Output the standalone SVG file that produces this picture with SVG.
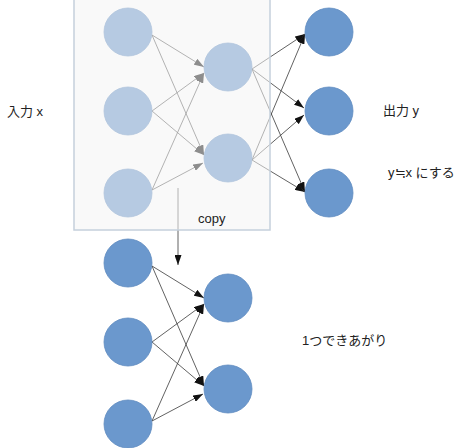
<svg xmlns="http://www.w3.org/2000/svg" width="474" height="448" viewBox="0 0 474 448">
<defs>
<style>
.edge{stroke:#3a3a3a;stroke-width:0.8;fill:none;marker-end:url(#arr)}
.node{fill:#6b98cd;stroke:#5f8bc0;stroke-width:0.8}
.lbl{font-family:"Liberation Sans","Noto Sans CJK JP",sans-serif;font-size:13px;fill:#222}
</style>
<marker id="arr" viewBox="0 0 10 7" refX="10" refY="3.5" markerWidth="10" markerHeight="7" markerUnits="userSpaceOnUse" orient="auto">
<path d="M0,0 L10,3.5 L0,7 z" fill="#111"/>
</marker>
</defs>
<rect width="474" height="448" fill="#fff"/>
<g id="connectors">
<line class="edge" x1="152" y1="35" x2="204" y2="67"/>
<line class="edge" x1="152" y1="35" x2="204" y2="155"/>
<line class="edge" x1="152" y1="111" x2="204" y2="73"/>
<line class="edge" x1="152" y1="111" x2="204" y2="155"/>
<line class="edge" x1="152" y1="190" x2="204" y2="73"/>
<line class="edge" x1="152" y1="190" x2="203" y2="163"/>
<line class="edge" x1="252" y1="69" x2="305" y2="34"/>
<line class="edge" x1="252" y1="69" x2="304" y2="108"/>
<line class="edge" x1="252" y1="69" x2="305" y2="192"/>
<line class="edge" x1="252" y1="160" x2="305" y2="34"/>
<line class="edge" x1="252" y1="160" x2="304" y2="115"/>
<line class="edge" x1="252" y1="160" x2="305" y2="192"/>
<line class="edge" x1="152" y1="266" x2="204" y2="298"/>
<line class="edge" x1="152" y1="266" x2="204" y2="386"/>
<line class="edge" x1="152" y1="342" x2="204" y2="304"/>
<line class="edge" x1="152" y1="342" x2="204" y2="386"/>
<line class="edge" x1="152" y1="421" x2="204" y2="304"/>
<line class="edge" x1="152" y1="421" x2="203" y2="394"/>
<line id="copy-arrow" class="edge" x1="178" y1="188" x2="178" y2="265"/>
</g>
<g id="in1"><circle class="node" cx="128" cy="32" r="24"/></g>
<g id="in2"><circle class="node" cx="128" cy="111" r="24"/></g>
<g id="in3"><circle class="node" cx="128" cy="193" r="24"/></g>
<g id="h1"><circle class="node" cx="228" cy="67" r="24"/></g>
<g id="h2"><circle class="node" cx="228" cy="158" r="24"/></g>
<g id="o1"><circle class="node" cx="329" cy="32" r="24"/></g>
<g id="o2"><circle class="node" cx="329" cy="111" r="24"/></g>
<g id="o3"><circle class="node" cx="329" cy="193" r="24"/></g>
<g id="b_in1"><circle class="node" cx="128" cy="263" r="24"/></g>
<g id="b_in2"><circle class="node" cx="128" cy="342" r="24"/></g>
<g id="b_in3"><circle class="node" cx="128" cy="424" r="24"/></g>
<g id="b_h1"><circle class="node" cx="228" cy="298" r="24"/></g>
<g id="b_h2"><circle class="node" cx="228" cy="389" r="24"/></g>
<g id="copy-box">
<rect x="74" y="-2" width="196" height="232" fill="#f4f4f4" fill-opacity="0.55" stroke="#c5d0dc" stroke-width="1.5"/>
</g>
<g id="labels">
<text class="lbl" x="7" y="116">入力 x</text>
<text class="lbl" x="383" y="115">出力 y</text>
<text class="lbl" x="388" y="177">y≒x にする</text>
<text class="lbl" x="198" y="223">copy</text>
<text class="lbl" x="302" y="345">1つできあがり</text>
</g>
</svg>
